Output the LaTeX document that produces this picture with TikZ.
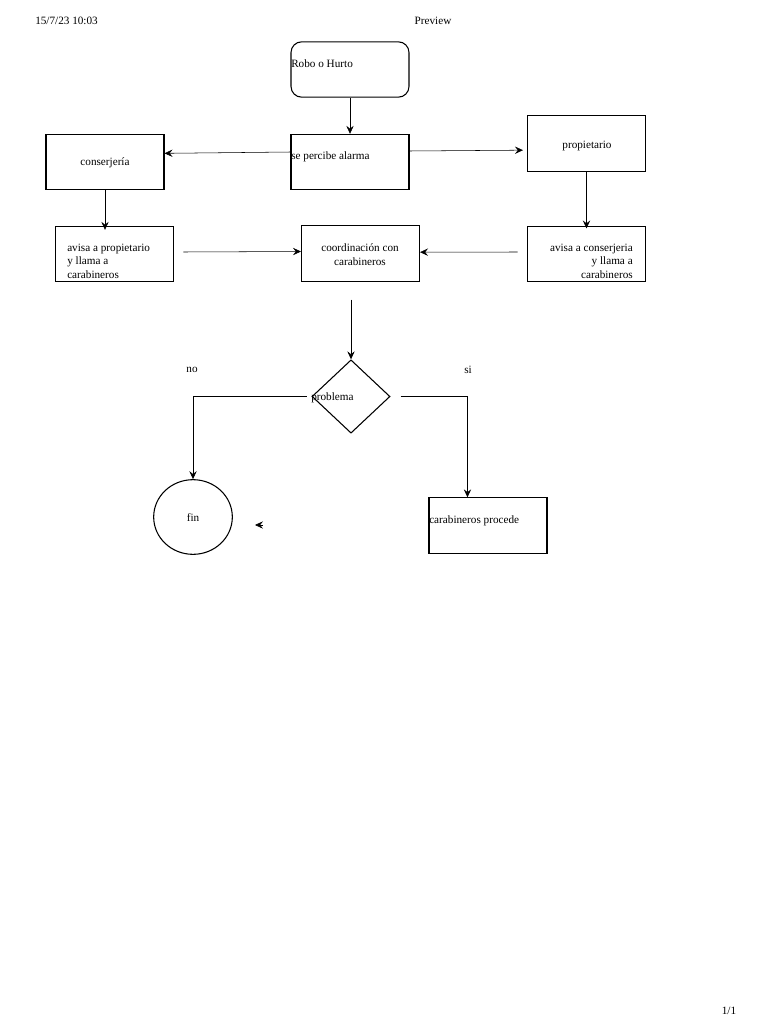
\documentclass[tikz,border=0pt]{standalone}
\usepackage{fontspec}
\setmainfont{Liberation Serif}
\usetikzlibrary{arrows.meta,shapes.geometric}

\tikzset{
  caja/.style={draw, thick, minimum width=88.5pt, minimum height=41.5pt, inner sep=0pt},
  texto/.style={inner sep=0pt, font=\fontsize{8.4}{10.2}\selectfont},
  flecha/.style={-{Stealth[length=6pt,width=5.5pt,inset=2.2pt]}, thin},
}

\begin{document}
\begin{tikzpicture}[x=0.75pt, y=-0.75pt, every node/.style={texto}]
            \useasboundingbox (0,0) rectangle (768,1024);

            % cabecera
            \node[anchor=west] (fecha) at (35,21) {15/7/23 10:03};
            \node (prev) at (433,21) {Preview};
            \node (pag) at (729,1011) {1/1};

            % cajas
            \node[caja, rounded corners=8pt] (robo) at (350,69.5) {};
            \node[anchor=west] (robot) at (291,63.5) {Robo o Hurto};
            \node[caja] (alarma) at (350,162) {};
            \node[anchor=west] (alarmat) at (291,156.5) {se percibe alarma};
            \node[caja] (conser) at (105,162) {};
            \node (consert) at (105,163) {conserjería};
            \node[caja] (prop) at (586.5,143.5) {};
            \node (propt) at (587,145.5) {propietario};

            \node[caja] (avisap) at (114.5,254) {};
            \node[anchor=north west, align=left] (avisapt) at (67,243.5) {avisa a propietario\\ y llama a\\ carabineros};
            \node[caja] (coord) at (360.5,253.5) {};
            \node[align=center] (coordt) at (360,254.5) {coordinación con\\carabineros};
            \node[caja] (avisac) at (586.5,254) {};
            \node[anchor=north east, align=right] (avisact) at (633,243.5) {avisa a conserjeria\\ y llama a\\ carabineros};

            % decision
            \node[draw, thick, diamond, minimum width=58.5pt, minimum height=55pt, inner sep=0pt] (prob) at (351,396.5) {};
            \node[anchor=west] (probt) at (311,398) {problema};
            \node (no) at (192,369.5) {no};
            \node (si) at (468,369.5) {si};

            \node[draw, thick, ellipse, minimum width=59pt, minimum height=56pt, inner sep=0pt] (fin) at (193,517) {};
            \node (fint) at (193,518) {fin};
            \node[caja] (proc) at (488,525.5) {};
            \node[anchor=west] (proct) at (429,521) {carabineros procede};
            \coordinate (procin) at ([xshift=29.25pt]proc.north west);

            % flechas
            \draw[flecha] (robo.south) -- (alarma.north);
            \draw[flecha] ([yshift=7.5pt]alarma.west) -- ([yshift=6.5pt]conser.east);
            \draw[flecha] ([yshift=8.25pt]alarma.east) -- ([xshift=-3pt,yshift=-5pt]prop.west);
            \draw[flecha] (conser.south) -- ([yshift=-3pt]conser.south |- avisap.north);
            \draw[flecha] (prop.south) -- ([yshift=-2pt]avisac.north);
            \draw[flecha] ([xshift=7pt,yshift=1.5pt]avisap.east) -- ([yshift=1.5pt]coord.west);
            \draw[flecha] ([xshift=-7pt,yshift=1.5pt]avisac.west) -- ([yshift=1pt]coord.east);
            \draw[flecha] ([yshift=-13.5pt]prob.north |- coord.south) -- (prob.north);
            \draw[flecha] ([xshift=-3.5pt]prob.west) -| (fin.north);
            \draw[flecha] ([xshift=7.5pt]prob.east) -| (procin);

            % punta suelta
            \coordinate (suelta) at (263,525);
            \draw[flecha] (suelta) -- ++(-8,0);
        \end{tikzpicture}
\end{document}
